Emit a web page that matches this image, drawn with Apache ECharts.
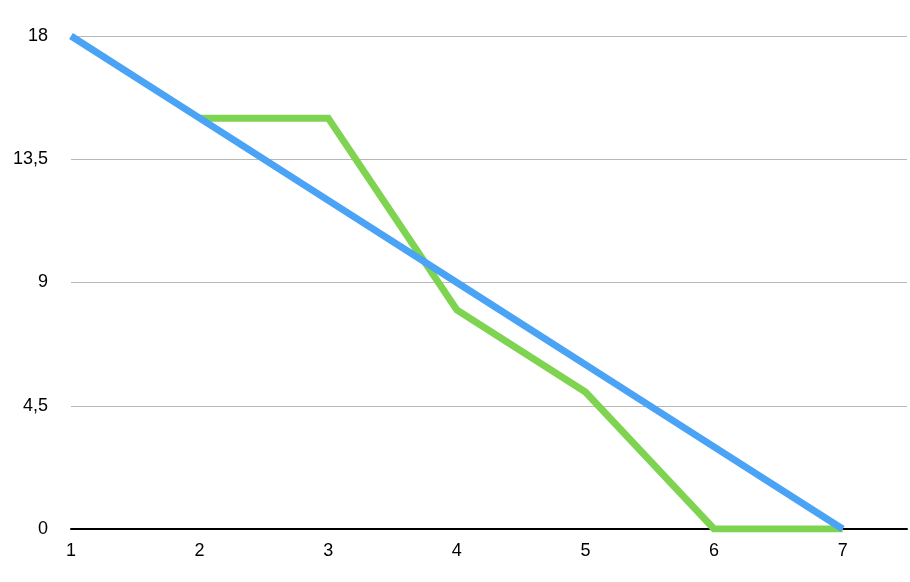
<!DOCTYPE html>
<html><head><meta charset="utf-8">
<script src="https://cdn.jsdelivr.net/npm/echarts@6/dist/echarts.min.js"></script>
<style>html,body{margin:0;padding:0;background:#fff}#c{width:910px;height:582px}</style>
</head><body><div id="c"></div>
<script>
const xValues = [1, 2, 3, 4, 5, 6, 7];
const idealValues = [18, 15, 12, 9, 6, 3, 0];
const actualX = [2, 3, 4, 5, 6, 7];
const actualValues = [15, 15, 8, 5, 0, 0];
const yTicks = [0, 4.5, 9, 13.5, 18];

const chart = echarts.init(document.getElementById('c'), null, {renderer: 'canvas'});
chart.setOption({
  animation: false,
  grid: {left: 71, right: 2, top: 36, bottom: 53},
  xAxis: {
    type: 'value', min: 1, max: 7.5, interval: 1,
    axisLine: {show: true, lineStyle: {color: '#000', width: 2}},
    axisTick: {show: false},
    splitLine: {show: false},
    axisLabel: {
      color: '#000', fontSize: 18, fontFamily: 'Liberation Sans, Arial, sans-serif', margin: 13,
      formatter: v => Number.isInteger(v) && v <= 7 ? String(v) : ''
    }
  },
  yAxis: {
    type: 'value', min: 0, max: 18, interval: 4.5,
    axisLine: {show: false}, axisTick: {show: false},
    splitLine: {lineStyle: {color: '#b8b8b8', width: 1}},
    axisLabel: {
      color: '#000', fontSize: 18, fontFamily: 'Liberation Sans, Arial, sans-serif', margin: 23,
      formatter: v => String(v).replace('.', ',')
    }
  },
  series: [
    {type: 'line', data: actualX.map((x, i) => [x, actualValues[i]]), symbol: 'none',
     lineStyle: {color: '#7ed451', width: 7, cap: 'butt', join: 'miter'}, z: 2},
    {type: 'line', data: xValues.map((x, i) => [x, idealValues[i]]), symbol: 'none',
     lineStyle: {color: '#4aa3f5', width: 7, cap: 'butt'}, z: 3}
  ]
});
</script></body></html>
